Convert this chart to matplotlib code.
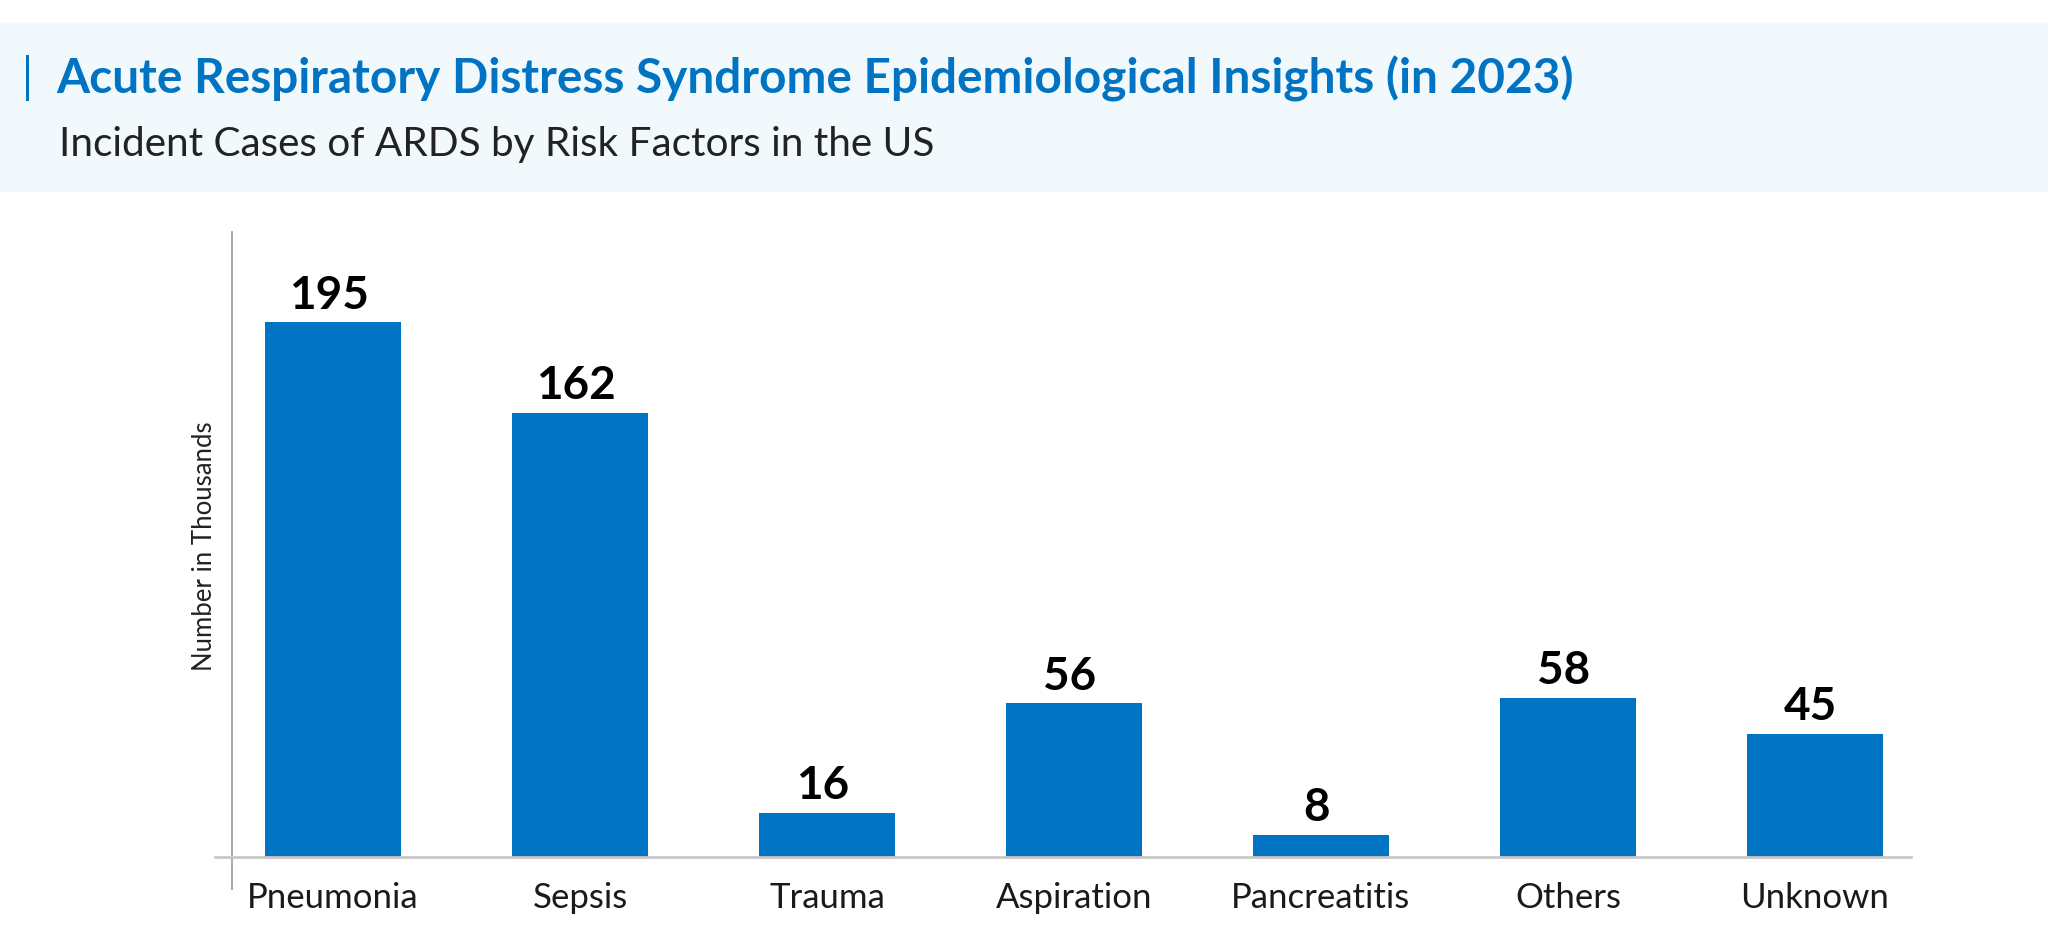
import matplotlib
matplotlib.use("Agg")
import matplotlib.pyplot as plt
from matplotlib.patches import Rectangle

categories = ["Pneumonia", "Sepsis", "Trauma", "Aspiration", "Pancreatitis", "Others", "Unknown"]
values = [195, 162, 16, 56, 8, 58, 45]

title = "Acute Respiratory Distress Syndrome Epidemiological Insights (in 2023)"
subtitle = "Incident Cases of ARDS by Risk Factors in the US"
ylabel = "Number in Thousands"

BLUE = "#0073C2"
W, H = 2048, 936
fig = plt.figure(figsize=(W / 100, H / 100), dpi=100)
fig.patch.set_facecolor("white")
plt.rcParams["font.family"] = ["Lato", "DejaVu Sans"]

# header band
fig.patches.append(Rectangle((0, 1 - 192 / H), 1, (192 - 23.5) / H, transform=fig.transFigure,
                             facecolor="#F2F9FD", edgecolor="none", zorder=0))
fig.patches.append(Rectangle((26 / W, 1 - 101 / H), 3 / W, 46 / H, transform=fig.transFigure,
                             facecolor=BLUE, edgecolor="none", zorder=1))
fig.text(56 / W, 1 - 93 / H, title, fontsize=34.4, fontweight="bold", color=BLUE, va="baseline", ha="left")
fig.text(59 / W, 1 - 156 / H, subtitle, fontsize=29.2, color="#222222", va="baseline", ha="left")

left_px, right_px, top_px, base_px = 215, 1911, 232, 857
ax = fig.add_axes([left_px / W, 1 - base_px / H, (right_px - left_px) / W, (base_px - top_px) / H])
ax.set_facecolor("none")

x = list(range(len(categories)))
ax.bar(x, values, width=0.55, color=BLUE, zorder=2)
ax.set_xlim(-0.478, 6.389)
ax.set_ylim(0, 228)

for xi, v in zip(x, values):
    ax.annotate(str(v), (xi, v), xytext=(-3, 10), textcoords="offset points",
                ha="center", va="baseline", fontsize=33, fontweight="bold", color="black")

ax.set_xticks(x)
ax.set_xticklabels(categories, fontsize=25, color="#1a1a1a")
ax.tick_params(axis="x", length=0, pad=18)
ax.set_yticks([])

for s in ["top", "right"]:
    ax.spines[s].set_visible(False)
ax.spines["bottom"].set_color("#C8C8C8")
ax.spines["bottom"].set_linewidth(2)
ax.spines["left"].set_color("#A0A0A0")
ax.spines["left"].set_linewidth(1.3)
ax.spines["left"].set_position(("data", -0.409))
ax.spines["left"].set_bounds(-11.5, 228)

fig.text(205 / W, 1 - 546 / H, ylabel, rotation=90, fontsize=18.5, color="#222222",
         ha="center", va="center")

fig.savefig("out.png", dpi=100, facecolor=fig.get_facecolor())
